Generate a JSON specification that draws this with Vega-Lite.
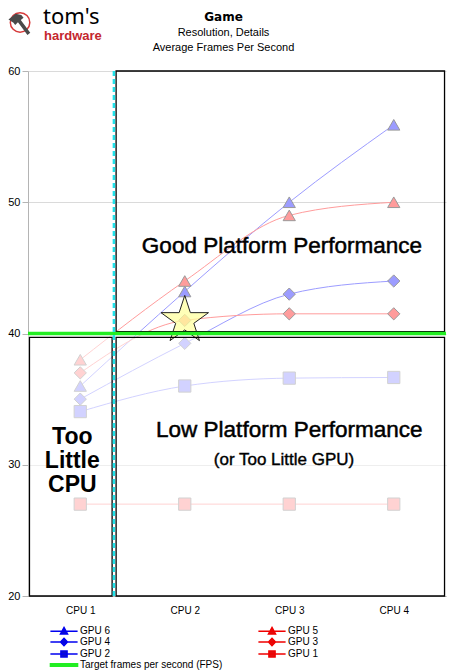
{
  "$schema": "https://vega.github.io/schema/vega-lite/v6.json",
  "width": 418,
  "height": 525,
  "autosize": {"type": "none"},
  "padding": {"left": 28, "top": 71, "right": 4, "bottom": 76},
  "background": "white",
  "config": {
    "view": {"stroke": null},
    "font": "Liberation Sans",
    "legend": {
      "orient": "none",
      "legendX": 31,
      "legendY": 555,
      "columns": 2,
      "columnPadding": 32,
      "rowPadding": -2.5,
      "padding": 0,
      "symbolSize": 64,
      "symbolStrokeWidth": 1.4,
      "labelFont": "Liberation Sans",
      "labelFontSize": 10,
      "labelColor": "black",
      "labelOffset": 11,
      "labelLimit": 200
    }
  },
  "data": {
    "values": [
      {"cpu": 1, "series": "GPU 6", "fps": 36.0},
      {"cpu": 2, "series": "GPU 6", "fps": 43.2},
      {"cpu": 3, "series": "GPU 6", "fps": 50.0},
      {"cpu": 4, "series": "GPU 6", "fps": 55.9},
      {"cpu": 1, "series": "GPU 5", "fps": 38.0},
      {"cpu": 2, "series": "GPU 5", "fps": 44.0},
      {"cpu": 3, "series": "GPU 5", "fps": 49.0},
      {"cpu": 4, "series": "GPU 5", "fps": 50.0},
      {"cpu": 1, "series": "GPU 4", "fps": 35.0},
      {"cpu": 2, "series": "GPU 4", "fps": 39.25},
      {"cpu": 3, "series": "GPU 4", "fps": 43.0},
      {"cpu": 4, "series": "GPU 4", "fps": 44.0},
      {"cpu": 1, "series": "GPU 3", "fps": 37.0},
      {"cpu": 2, "series": "GPU 3", "fps": 41.0},
      {"cpu": 3, "series": "GPU 3", "fps": 41.5},
      {"cpu": 4, "series": "GPU 3", "fps": 41.5},
      {"cpu": 1, "series": "GPU 2", "fps": 34.05},
      {"cpu": 2, "series": "GPU 2", "fps": 36.0},
      {"cpu": 3, "series": "GPU 2", "fps": 36.6},
      {"cpu": 4, "series": "GPU 2", "fps": 36.65},
      {"cpu": 1, "series": "GPU 1", "fps": 27.0},
      {"cpu": 2, "series": "GPU 1", "fps": 27.0},
      {"cpu": 3, "series": "GPU 1", "fps": 27.0},
      {"cpu": 4, "series": "GPU 1", "fps": 27.0}
    ]
  },
  "layer": [
    {
      "mark": {"type": "line", "interpolate": "monotone", "strokeWidth": 1},
      "encoding": {
        "x": {
          "field": "cpu", "type": "quantitative",
          "scale": {"domain": [0.5, 4.5], "nice": false, "zero": false},
          "axis": {
            "title": null, "values": [1, 2, 3, 4], "labelExpr": "'CPU ' + datum.value",
            "ticks": false, "grid": false, "domainColor": "#b4b4b4", "labelFontSize": 10,
            "labelColor": "black", "labelPadding": 9
          }
        },
        "y": {
          "field": "fps", "type": "quantitative",
          "scale": {"domain": [20, 60], "nice": false, "zero": false},
          "axis": {
            "title": null, "values": [20, 30, 40, 50, 60], "tickSize": 6, "tickColor": "#b4b4b4",
            "domainColor": "#b4b4b4", "gridColor": "#dadada", "labelFontSize": 11,
            "labelColor": "black", "labelPadding": 2
          }
        },
        "color": {
          "field": "series", "type": "nominal",
          "scale": {
            "domain": ["GPU 6", "GPU 4", "GPU 2", "GPU 5", "GPU 3", "GPU 1"],
            "range": ["#9c9cff", "#9c9cff", "#9c9cff", "#ff9c9c", "#ff9c9c", "#ff9c9c"]
          },
          "legend": null
        }
      }
    },
    {
      "mark": {"type": "point", "filled": true, "size": 150, "opacity": 1, "stroke": "#9a9a9a", "strokeWidth": 1},
      "encoding": {
        "x": {"field": "cpu", "type": "quantitative"},
        "y": {"field": "fps", "type": "quantitative"},
        "color": {"field": "series", "type": "nominal", "legend": null},
        "shape": {
          "condition": [
            {"test": "datum.series === 'GPU 6' || datum.series === 'GPU 5'", "value": "triangle-up"},
            {"test": "datum.series === 'GPU 2' || datum.series === 'GPU 1'", "value": "square"}
          ],
          "value": "diamond"
        }
      }
    },
    {
      "data": {"values": [{}]},
      "mark": {"type": "rect", "fill": "white", "opacity": 0.55},
      "encoding": {"x": {"datum": 0.5}, "x2": {"datum": 4.5}, "y": {"datum": 20}, "y2": {"datum": 39.9}}
    },
    {
      "data": {"values": [{}]},
      "mark": {
        "type": "point", "filled": true, "opacity": 1, "size": 2500,
        "shape": "M0,-1L0.2245,-0.309L0.951,-0.309L0.363,0.118L0.588,0.809L0,0.382L-0.588,0.809L-0.363,0.118L-0.951,-0.309L-0.2245,-0.309Z",
        "fill": "#ffffa0", "fillOpacity": 0.75, "stroke": "#222222", "strokeWidth": 1
      },
      "encoding": {"x": {"datum": 2}, "y": {"datum": 41}}
    },
    {
      "data": {"values": [{}]},
      "mark": {"type": "rect", "fill": "transparent", "stroke": "black", "strokeWidth": 1.3},
      "encoding": {"x": {"datum": 1.343}, "x2": {"datum": 4.486}, "y": {"datum": 40.14}, "y2": {"datum": 60}}
    },
    {
      "data": {"values": [{}]},
      "mark": {"type": "rect", "fill": "transparent", "stroke": "black", "strokeWidth": 1.3},
      "encoding": {"x": {"datum": 1.343}, "x2": {"datum": 4.486}, "y": {"datum": 20}, "y2": {"datum": 39.71}}
    },
    {
      "data": {"values": [{}]},
      "mark": {"type": "rect", "fill": "transparent", "stroke": "black", "strokeWidth": 1.3},
      "encoding": {"x": {"datum": 0.514}, "x2": {"datum": 1.305}, "y": {"datum": 20}, "y2": {"datum": 39.71}}
    },
    {
      "data": {"values": [{}]},
      "mark": {"type": "rule", "color": "#22ee22", "strokeWidth": 3.5},
      "encoding": {"x": {"datum": 0.5}, "x2": {"datum": 4.5}, "y": {"datum": 40}}
    },
    {
      "data": {"values": [{}]},
      "mark": {"type": "rule", "color": "#22e2ea", "strokeWidth": 2.5, "strokeDash": [5, 3]},
      "encoding": {"x": {"datum": 1.322}, "y": {"datum": 20}, "y2": {"datum": 60}}
    },
    {
      "data": {"values": [{}]},
      "mark": {"type": "text", "font": "Liberation Sans", "fontSize": 22.5, "color": "black", "stroke": "black", "strokeWidth": 0.5, "align": "center", "baseline": "middle"},
      "encoding": {"x": {"datum": 2.93}, "y": {"datum": 46.67}, "text": {"value": "Good Platform Performance"}}
    },
    {
      "data": {"values": [{}]},
      "mark": {"type": "text", "font": "Liberation Sans", "fontSize": 22.5, "color": "black", "stroke": "black", "strokeWidth": 0.5, "align": "center", "baseline": "middle"},
      "encoding": {"x": {"datum": 3.0}, "y": {"datum": 32.65}, "text": {"value": "Low Platform Performance"}}
    },
    {
      "data": {"values": [{}]},
      "mark": {"type": "text", "font": "Liberation Sans", "fontSize": 17, "color": "black", "stroke": "black", "strokeWidth": 0.4, "align": "center", "baseline": "middle"},
      "encoding": {"x": {"datum": 2.95}, "y": {"datum": 30.36}, "text": {"value": "(or Too Little GPU)"}}
    },
    {
      "data": {"values": [{}]},
      "mark": {"type": "text", "font": "Liberation Sans", "fontWeight": "bold", "fontSize": 23, "color": "black", "align": "center", "baseline": "middle", "lineHeight": 24},
      "encoding": {"x": {"datum": 0.924}, "y": {"datum": 32.11}, "text": {"value": ["Too", "Little", "CPU"]}}
    },
    {
      "data": {"values": [{}]},
      "mark": {"type": "text", "font": "DejaVu Sans", "fontWeight": "bold", "fontSize": 12, "color": "black", "align": "center", "baseline": "middle"},
      "encoding": {"x": {"datum": 2.371}, "y": {"datum": 64.11}, "text": {"value": "Game"}}
    },
    {
      "data": {"values": [{}]},
      "mark": {"type": "text", "font": "Liberation Sans", "fontSize": 11, "color": "black", "align": "center", "baseline": "middle", "lineHeight": 15},
      "encoding": {"x": {"datum": 2.371}, "y": {"datum": 62.9}, "text": {"value": ["Resolution, Details", "Average Frames Per Second"]}}
    },
    {
      "data": {"values": [{}]},
      "mark": {"type": "point", "shape": "circle", "size": 380, "filled": false, "stroke": "#d63a3a", "strokeWidth": 1.5, "opacity": 1},
      "encoding": {"x": {"datum": 0.424}, "y": {"datum": 63.7}}
    },
    {
      "data": {"values": [{}]},
      "mark": {
        "type": "point", "size": 500, "filled": true, "fill": "#4a4a4a", "opacity": 1,
        "shape": "M-1,-0.45L-0.35,-0.95L0.15,-0.85L0.35,-0.6L0.1,-0.4L0.95,0.75L0.7,0.95L-0.15,-0.2L-0.4,0.05L-0.55,-0.15Z"
      },
      "encoding": {"x": {"datum": 0.42}, "y": {"datum": 63.55}}
    },
    {
      "data": {"values": [{}]},
      "mark": {"type": "text", "font": "Noto Sans", "fontSize": 22, "color": "black", "align": "center", "baseline": "middle"},
      "encoding": {"x": {"datum": 0.914}, "y": {"datum": 64.15}, "text": {"value": "tom's"}}
    },
    {
      "data": {"values": [{}]},
      "mark": {"type": "text", "font": "Liberation Sans", "fontWeight": "bold", "fontSize": 13, "color": "#c4262e", "align": "center", "baseline": "middle"},
      "encoding": {"x": {"datum": 0.93}, "y": {"datum": 62.63}, "text": {"value": "hardware"}}
    },
    {
      "transform": [{"filter": "false"}],
      "mark": {"type": "point", "opacity": 1},
      "encoding": {
        "x": {"field": "cpu", "type": "quantitative"},
        "y": {"field": "fps", "type": "quantitative"},
        "shape": {
          "field": "series", "type": "nominal",
          "scale": {
            "domain": ["GPU 6", "GPU 4", "GPU 2", "Target frames per second (FPS)", "GPU 5", "GPU 3", "GPU 1"],
            "range": [
              "M-3.4,0L3.4,0M0,-0.95L0.9,0.7L-0.9,0.7Z",
              "M-3.4,0L3.4,0M0,-0.95L0.88,0L0,0.95L-0.88,0Z",
              "M-3.4,0L3.4,0M-0.78,-0.78L0.78,-0.78L0.78,0.78L-0.78,0.78Z",
              "M-3.4,-0.35L3.4,-0.35L3.4,0.35L-3.4,0.35Z",
              "M-3.4,0L3.4,0M0,-0.95L0.9,0.7L-0.9,0.7Z",
              "M-3.4,0L3.4,0M0,-0.95L0.88,0L0,0.95L-0.88,0Z",
              "M-3.4,0L3.4,0M-0.78,-0.78L0.78,-0.78L0.78,0.78L-0.78,0.78Z"
            ]
          },
          "legend": {"title": null}
        },
        "fill": {
          "field": "series", "type": "nominal",
          "scale": {
            "domain": ["GPU 6", "GPU 4", "GPU 2", "Target frames per second (FPS)", "GPU 5", "GPU 3", "GPU 1"],
            "range": ["#1010c8", "#1010c8", "#1010c8", "#22ee22", "#e01010", "#e01010", "#e01010"]
          },
          "legend": {"title": null}
        },
        "stroke": {
          "field": "series", "type": "nominal",
          "scale": {
            "domain": ["GPU 6", "GPU 4", "GPU 2", "Target frames per second (FPS)", "GPU 5", "GPU 3", "GPU 1"],
            "range": ["#0000f0", "#0000f0", "#0000f0", "#22ee22", "#f00000", "#f00000", "#f00000"]
          },
          "legend": {"title": null}
        }
      }
    }
  ]
}
